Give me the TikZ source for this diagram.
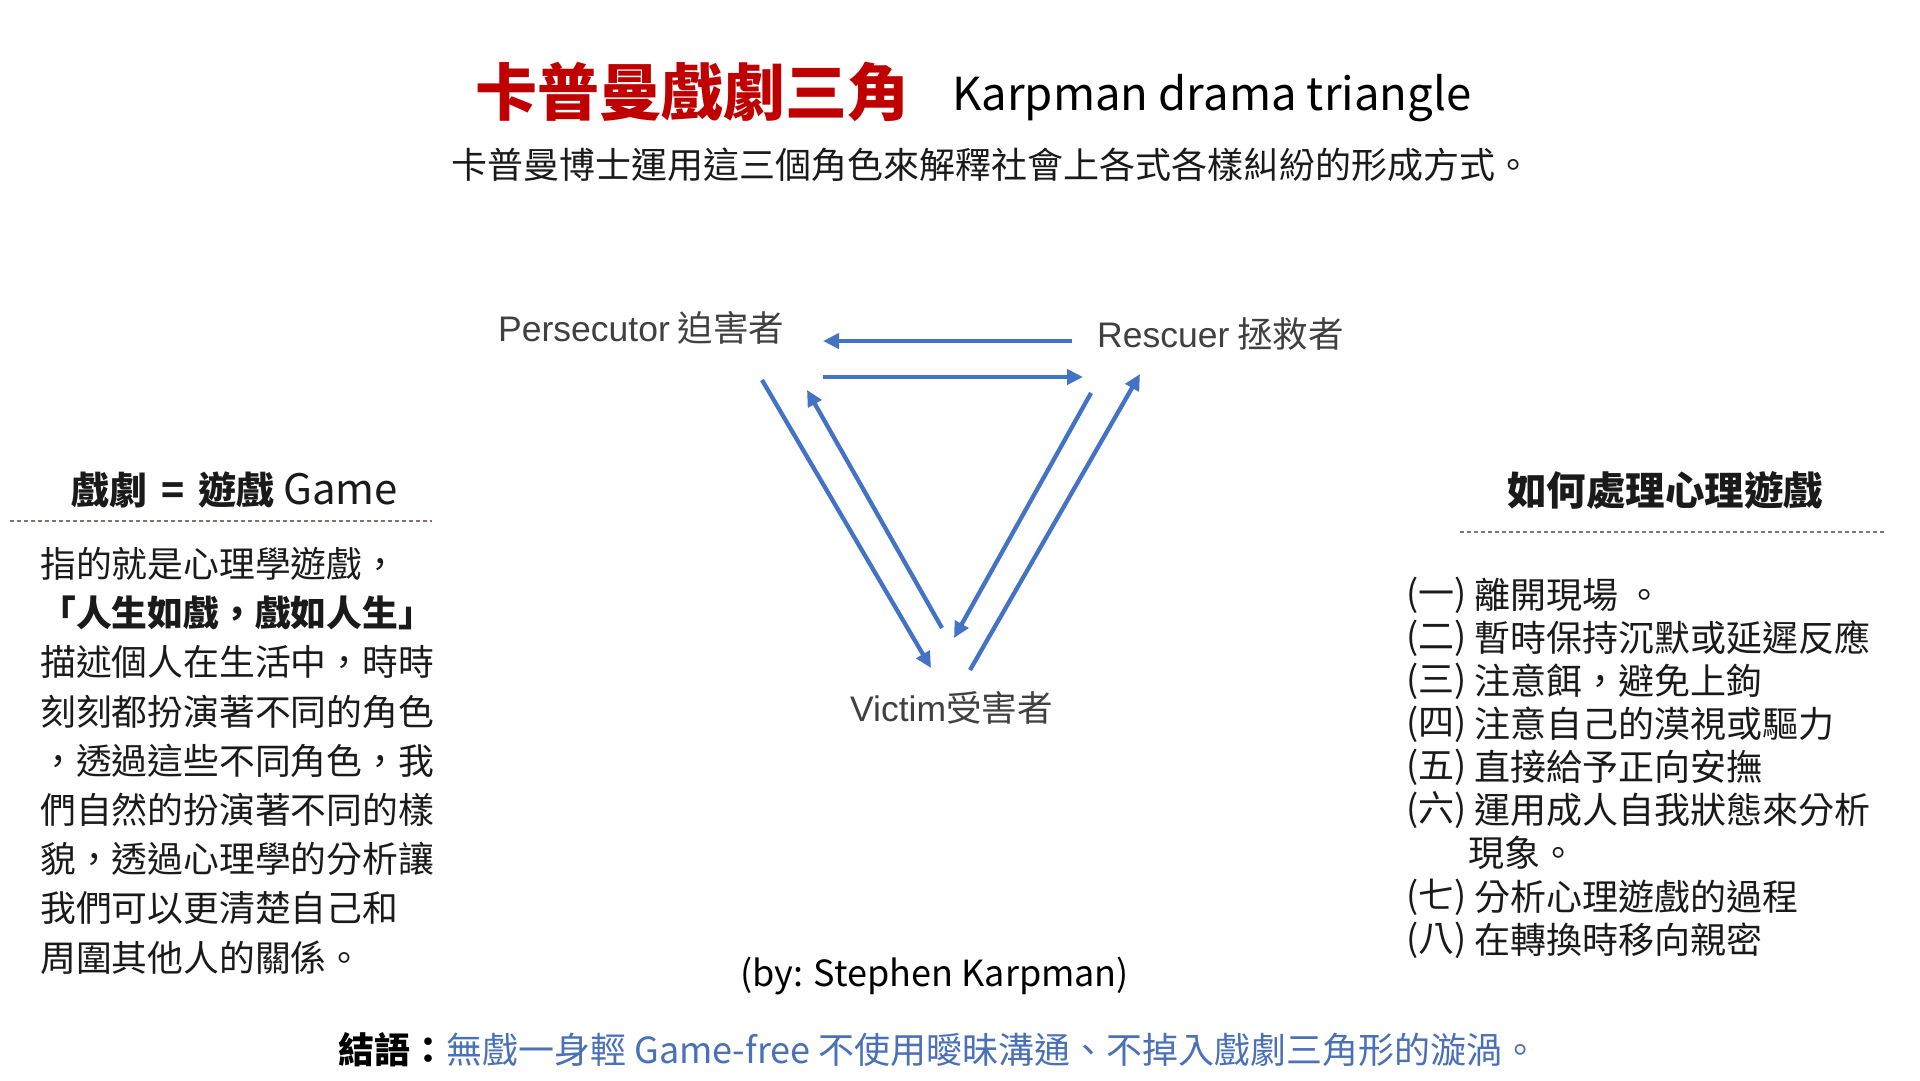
\documentclass[tikz,border=0pt]{standalone}
\usepackage{fontspec}
\setmainfont{Noto Sans CJK TC}
\newfontfamily\arialf{Liberation Sans}
\usetikzlibrary{arrows.meta}
\definecolor{arrowblue}{HTML}{4472C4}
\definecolor{titlered}{HTML}{C00000}
\definecolor{txtgray}{HTML}{404040}
\definecolor{dashcol}{HTML}{8C6E73}
\definecolor{endblue}{HTML}{4A70B8}
\definecolor{bodyblack}{HTML}{1A1A1A}
\newcommand\fsz[1]{\fontsize{#1}{#1}\selectfont}
\begin{document}
\begin{tikzpicture}[x=1pt,y=-1pt,
  txt/.style={inner sep=0pt, anchor=west, text=bodyblack},
  role/.style={inner sep=0pt, anchor=west, text=txtgray, font=\fsz{35.5}},
  flow/.style={draw=arrowblue, line width=4.3pt, -{Triangle[length=16pt,width=15pt]}},
  sep/.style={draw=dashcol, line width=1.3pt, dash pattern=on 4pt off 3pt},
  para/.style={txt, font=\fsz{35.8}},
  itemlab/.style={txt, font=\fsz{36}},
  itemtxt/.style={txt, font=\fsz{36}},
]
\fill[white] (0,0) rectangle (1920,1080);
\useasboundingbox (0,0) rectangle (1920,1080);

% title
\node[txt, text=titlered, font=\fsz{62}\bfseries] (title) at (475,92) {卡普曼戲劇三角};
\node[txt, text=black, font=\fsz{45.5}] (titleen) at (952,98) {Karpman drama triangle};
\node[txt, font=\fsz{36}] (subtitle) at (451,165) {卡普曼博士運用這三個角色來解釋社會上各式各樣糾紛的形成方式。};

% roles
\node[role] (P) at (498,328) {{\arialf Persecutor} 迫害者};
\node[role] (R) at (1097,334) {{\arialf Rescuer} 拯救者};
\node[role] (V) at (850,708) {{\arialf Victim}受害者};

% arrow end points
\coordinate (pr1) at (823,377);  \coordinate (pr2) at (1083,377);
\coordinate (rp1) at (1072,341); \coordinate (rp2) at (823,341);
\coordinate (pv1) at (762,380);  \coordinate (pv2) at (931,668);
\coordinate (vp1) at (942,628);  \coordinate (vp2) at (807,390);
\coordinate (rv1) at (1091,393); \coordinate (rv2) at (954,638);
\coordinate (vr1) at (970,670);  \coordinate (vr2) at (1140,374);
\draw[flow] (rp1) -- (rp2);
\draw[flow] (pr1) -- (pr2);
\draw[flow] (pv1) -- (pv2);
\draw[flow] (vp1) -- (vp2);
\draw[flow] (rv1) -- (rv2);
\draw[flow] (vr1) -- (vr2);

% left column
\node[txt, font=\fsz{38}] (lhead) at (71,490) {{\bfseries 戲劇}\hspace{14pt}{\bfseries =}\hspace{14pt}{\bfseries 遊戲}\hspace{9pt}{\fsz{42}Game}};
\coordinate (ld1) at (10,521); \coordinate (ld2) at (432,521);
\draw[sep] (ld1) -- (ld2);
\node[para] (l1) at (40,564) {指的就是心理學遊戲，};
\node[para, font=\fsz{35.8}\bfseries] (l2) at (40,613) {「人生如戲，戲如人生」};
\node[para] (l3) at (40,662) {描述個人在生活中，時時};
\node[para] (l4) at (40,712) {刻刻都扮演著不同的角色};
\node[para] (l5) at (40,761) {，透過這些不同角色，我};
\node[para] (l6) at (40,810) {們自然的扮演著不同的樣};
\node[para] (l7) at (40,859) {貌，透過心理學的分析讓};
\node[para] (l8) at (40,908) {我們可以更清楚自己和};
\node[para] (l9) at (40,958) {周圍其他人的關係。};

% right column
\node[txt, font=\fsz{39.5}\bfseries] (rhead) at (1507,490) {如何處理心理遊戲};
\coordinate (rd1) at (1460,532); \coordinate (rd2) at (1885,532);
\draw[sep] (rd1) -- (rd2);
\node[itemlab] (a1) at (1406,595) {(一)};
\node[itemtxt] (b1) at (1474,595) {離開現場 。};
\node[itemlab] (a2) at (1406,638) {(二)};
\node[itemtxt] (b2) at (1474,638) {暫時保持沉默或延遲反應};
\node[itemlab] (a3) at (1406,681) {(三)};
\node[itemtxt] (b3) at (1474,681) {注意餌，避免上鉤};
\node[itemlab] (a4) at (1406,724) {(四)};
\node[itemtxt] (b4) at (1474,724) {注意自己的漠視或驅力};
\node[itemlab] (a5) at (1406,767) {(五)};
\node[itemtxt] (b5) at (1474,767) {直接給予正向安撫};
\node[itemlab] (a6) at (1406,810) {(六)};
\node[itemtxt] (b6) at (1474,810) {運用成人自我狀態來分析};
\node[itemtxt] (b6b) at (1468,853) {現象。};
\node[itemlab] (a7) at (1406,897) {(七)};
\node[itemtxt] (b7) at (1474,897) {分析心理遊戲的過程};
\node[itemlab] (a8) at (1406,940) {(八)};
\node[itemtxt] (b8) at (1474,940) {在轉換時移向親密};

% bottom
\node[txt, text=black, font=\fsz{36}] (by) at (740,976) {(by: Stephen Karpman)};
\node[txt, font=\fsz{36}] (concl) at (338,1050) {{\bfseries\color{black}結語：}\textcolor{endblue}{無戲一身輕 Game-free 不使用曖昧溝通、不掉入戲劇三角形的漩渦。}};
\end{tikzpicture}
\end{document}
